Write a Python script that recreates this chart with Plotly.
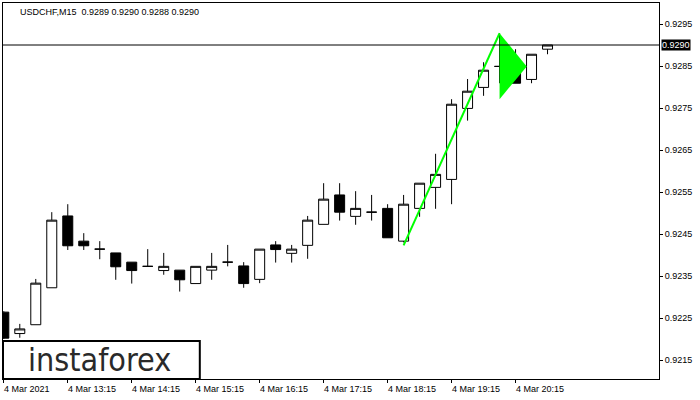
import plotly.graph_objects as go

symbol = "USDCHF"
timeframe = "M15"

# candle index (15-minute bars starting 4 Mar 2021 12:15)
idx = list(range(35))
opens = [0.92264, 0.92213, 0.92234, 0.92322, 0.92493, 0.92433, 0.92414, 0.92405, 0.92383, 0.92373,
         0.92363, 0.92364, 0.92332, 0.92364, 0.92383, 0.92374, 0.92342, 0.92424, 0.92404, 0.92423,
         0.92473, 0.92543, 0.92492, 0.92502, 0.92511, 0.92433, 0.92511, 0.92561, 0.92580, 0.92749,
         0.92799, 0.92849, 0.92840, 0.92818, 0.92890]
highs = [0.92266, 0.92236, 0.92343, 0.92502, 0.92521, 0.92452, 0.92433, 0.92405, 0.92383, 0.92414,
         0.92405, 0.92364, 0.92373, 0.92405, 0.92424, 0.92383, 0.92414, 0.92433, 0.92424, 0.92493,
         0.92571, 0.92571, 0.92552, 0.92543, 0.92521, 0.92543, 0.92571, 0.92641, 0.92771, 0.92819,
         0.92859, 0.92928, 0.92890, 0.92878, 0.92900]
lows = [0.92200, 0.92203, 0.92234, 0.92322, 0.92412, 0.92412, 0.92390, 0.92341, 0.92332, 0.92373,
        0.92353, 0.92313, 0.92332, 0.92341, 0.92373, 0.92322, 0.92333, 0.92382, 0.92382, 0.92391,
        0.92473, 0.92482, 0.92472, 0.92482, 0.92441, 0.92430, 0.92491, 0.92510, 0.92521, 0.92720,
        0.92779, 0.92809, 0.92809, 0.92809, 0.92878]
closes = [0.92202, 0.92224, 0.92333, 0.92483, 0.92422, 0.92422, 0.92414, 0.92372, 0.92363, 0.92373,
          0.92373, 0.92341, 0.92373, 0.92373, 0.92383, 0.92332, 0.92414, 0.92413, 0.92414, 0.92483,
          0.92533, 0.92502, 0.92511, 0.92502, 0.92441, 0.92521, 0.92571, 0.92592, 0.92759, 0.92790,
          0.92840, 0.92849, 0.92809, 0.92878, 0.92900]

# x-axis labels (every 4 bars)
x_tick_idx = [0, 4, 8, 12, 16, 20, 24, 28, 32]
x_tick_labels = ["4 Mar 2021", "4 Mar 13:15", "4 Mar 14:15", "4 Mar 15:15", "4 Mar 16:15",
                 "4 Mar 17:15", "4 Mar 18:15", "4 Mar 19:15", "4 Mar 20:15"]
# y-axis ticks
y_ticks = [0.9215, 0.9225, 0.9235, 0.9245, 0.9255, 0.9265, 0.9275, 0.9285, 0.9295]

# bullish pennant pattern
pole_x = [25, 31]
pole_y = [0.92423, 0.92928]
flag_x = [31, 32.7, 31]
flag_y = [0.92928, 0.92849, 0.92771]

current_price = closes[-1]
green = "#00FF00"

fig = go.Figure()

fig.add_trace(go.Scatter(x=flag_x, y=flag_y, fill="toself", fillcolor=green,
                         mode="lines", line=dict(color=green, width=0), hoverinfo="skip"))

fig.add_trace(go.Candlestick(
    x=idx, open=opens, high=highs, low=lows, close=closes,
    increasing=dict(line=dict(color="black", width=1), fillcolor="white"),
    decreasing=dict(line=dict(color="black", width=1), fillcolor="black"),
    whiskerwidth=0,
))

fig.add_trace(go.Scatter(x=pole_x, y=pole_y, mode="lines",
                         line=dict(color=green, width=2), hoverinfo="skip"))

fig.add_shape(type="line", xref="paper", x0=0, x1=1, yref="y", y0=current_price, y1=current_price,
              line=dict(color="black", width=1))

font_family = "Liberation Sans"

annotations = []
for xi, lab in zip(x_tick_idx, x_tick_labels):
    annotations.append(dict(x=xi, xref="x", y=0, yref="paper", text=lab, showarrow=False,
                            xanchor="left", yanchor="middle", yshift=-10, xshift=-2,
                            font=dict(family=font_family, size=9, color="black")))

o, h, l, c = opens[-1], highs[-1], lows[-1], closes[-1]
title = f"{symbol},{timeframe}\u00a0 {o:.4f} {h:.4f} {l:.4f} {c:.4f}"
annotations.append(dict(x=0.023, xref="paper", y=1 - 9 / 376, yref="paper", text=title,
                        showarrow=False, xanchor="left", yanchor="middle",
                        font=dict(family=font_family, size=9, color="black")))

annotations.append(dict(x=1, xref="paper", y=current_price, yref="y", text=f"{current_price:.4f}",
                        showarrow=False, xanchor="left", yanchor="middle", xshift=2,
                        bgcolor="black", borderpad=0,
                        font=dict(family=font_family, size=9, color="white")))

annotations.append(dict(x=0.1475, xref="paper", y=0.05, yref="paper", text="instaforex",
                        showarrow=False, xanchor="center", yanchor="middle",
                        font=dict(family="DejaVu Sans Condensed", size=32, color="#2a2a2a",
                                  weight=300)))

fig.add_shape(type="rect", xref="paper", yref="paper", x0=0, x1=0.3, y0=0, y1=0.101,
              fillcolor="white", line=dict(color="black", width=2), layer="above")

fig.update_layout(
    width=700, height=400, autosize=False,
    margin=dict(l=3, r=41, t=3, b=21),
    paper_bgcolor="white", plot_bgcolor="white",
    showlegend=False,
    boxgap=0.375, boxgroupgap=0,
    annotations=annotations,
    xaxis=dict(range=[-0.05, 40.97], rangeslider=dict(visible=False), showgrid=False, zeroline=False,
               tickvals=x_tick_idx, ticks="outside", ticklen=3, tickcolor="black",
               showticklabels=False, showline=True, linecolor="black", linewidth=1, mirror=True),
    yaxis=dict(range=[0.921048, 0.9300], side="right", showgrid=False, zeroline=False,
               tickvals=y_ticks, ticktext=[f"{v:.4f}" for v in y_ticks],
               ticks="outside", ticklen=3, tickcolor="black",
               tickfont=dict(family=font_family, size=9, color="black"),
               showline=True, linecolor="black", linewidth=1, mirror=True),
)

fig.write_html("out.html", config={"displayModeBar": False},
               post_script="document.body.style.margin='0';document.body.style.overflow='hidden';")
